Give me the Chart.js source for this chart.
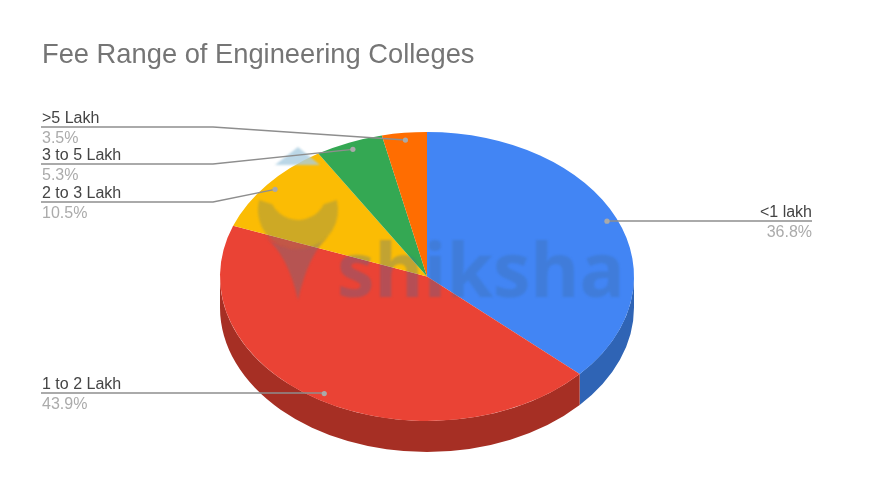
<!DOCTYPE html>
<html>
<head>
<meta charset="utf-8">
<title>Fee Range of Engineering Colleges</title>
<script src="https://cdn.jsdelivr.net/npm/chart.js@4/dist/chart.umd.min.js"></script>
<style>
  html, body { margin: 0; padding: 0; background: #fff; }
  #wrap { width: 895px; height: 503px; }
</style>
</head>
<body>
<div id="wrap"><canvas id="chart" width="895" height="503"></canvas></div>
<script>
const categories = ['<1 lakh', '1 to 2 Lakh', '2 to 3 Lakh', '3 to 5 Lakh', '>5 Lakh'];
const shares = [36.8, 43.9, 10.5, 5.3, 3.5];
const shareLabels = ['36.8%', '43.9%', '10.5%', '5.3%', '3.5%'];
const sliceColors = ['#4285f4', '#ea4335', '#fbbc04', '#34a853', '#ff6d01'];
const wallColors = ['#2f64b5', '#a62f24', '#b5880a', '#26793c', '#b84f01'];

// where the tilted pie sits on the page
const tilt = { cx: 427, cy: 276.5, rx: 207, ry: 144.5, depth: 31 };
// label placement, same order as categories
const leaders = [
    { side: 'right', y: 221 },
    { side: 'left', y: 393 },
    { side: 'left', y: 202, elbow: 213 },
    { side: 'left', y: 164, elbow: 213 },
    { side: 'left', y: 127, elbow: 213 }
];

const tiltedPie = {
    id: 'tiltedPie',
    beforeDatasetsDraw(chart) {
        const ctx = chart.ctx;
        const arcs = chart.getDatasetMeta(0).data;
        // side wall, only the front half of the rim is visible
        arcs.forEach((arc, i) => {
            const a1 = Math.max(arc.startAngle, 0);
            const a2 = Math.min(arc.endAngle, Math.PI);
            if (a2 <= a1) return;
            ctx.beginPath();
            ctx.ellipse(tilt.cx, tilt.cy, tilt.rx, tilt.ry, 0, a1, a2);
            ctx.ellipse(tilt.cx, tilt.cy + tilt.depth, tilt.rx, tilt.ry, 0, a2, a1, true);
            ctx.closePath();
            ctx.fillStyle = wallColors[i];
            ctx.fill();
        });
        // squash the library's circular arcs into the ellipse
        const first = arcs[0];
        ctx.save();
        ctx.translate(tilt.cx, tilt.cy);
        ctx.scale(tilt.rx / first.outerRadius, tilt.ry / first.outerRadius);
        ctx.translate(-first.x, -first.y);
    },
    afterDatasetsDraw(chart) {
        const ctx = chart.ctx;
        ctx.restore();
        drawWatermark(ctx);
        chart.getDatasetMeta(0).data.forEach((arc, i) => {
            const mid = (arc.startAngle + arc.endAngle) / 2;
            const px = tilt.cx + Math.cos(mid) * tilt.rx * 0.95;
            const py = tilt.cy + Math.sin(mid) * tilt.ry * 0.95;
            const lead = leaders[i];
            const isLeft = lead.side === 'left';
            const edge = isLeft ? 41 : 812;

            ctx.beginPath();
            ctx.moveTo(edge, lead.y);
            if (lead.elbow) ctx.lineTo(lead.elbow, lead.y);
            ctx.lineTo(px, lead.elbow ? py : lead.y);
            ctx.strokeStyle = '#8e8e8e';
            ctx.lineWidth = 1.4;
            ctx.stroke();

            ctx.beginPath();
            ctx.arc(px, py, 2.6, 0, Math.PI * 2);
            ctx.fillStyle = '#a9a9a9';
            ctx.fill();

            ctx.textAlign = isLeft ? 'left' : 'right';
            ctx.textBaseline = 'alphabetic';
            ctx.font = '16px "Liberation Sans", Arial, sans-serif';
            ctx.fillStyle = '#444444';
            ctx.fillText(categories[i], isLeft ? edge + 1 : edge, lead.y - 4);
            ctx.fillStyle = '#ababab';
            ctx.fillText(shareLabels[i], isLeft ? edge + 1 : edge, lead.y + 16);
        });
    }
};

// faint site logo and name stamped across the picture
function drawWatermark(ctx) {
    ctx.save();
    ctx.filter = 'blur(1.2px)';

    ctx.fillStyle = 'rgba(170, 205, 225, 0.8)';
    ctx.beginPath();
    ctx.moveTo(298, 147);
    ctx.lineTo(320, 165);
    ctx.lineTo(275, 165);
    ctx.closePath();
    ctx.fill();

    // crescent
    ctx.fillStyle = 'rgba(110, 130, 110, 0.32)';
    ctx.beginPath();
    ctx.arc(298, 210, 40, -0.08 * Math.PI, 1.08 * Math.PI);
    ctx.arc(298, 191, 29, 0.85 * Math.PI, 0.15 * Math.PI, true);
    ctx.closePath();
    ctx.fill();

    // dart under the crescent
    ctx.fillStyle = 'rgba(110, 110, 125, 0.42)';
    ctx.beginPath();
    ctx.moveTo(265, 237);
    ctx.quadraticCurveTo(288, 255, 298, 300);
    ctx.quadraticCurveTo(308, 255, 328, 237);
    ctx.quadraticCurveTo(298, 262, 265, 237);
    ctx.closePath();
    ctx.fill();

    ctx.font = 'bold 75px "Open Sans", "Liberation Sans", sans-serif';
    ctx.textAlign = 'left';
    ctx.textBaseline = 'alphabetic';
    ctx.fillStyle = 'rgba(60, 105, 160, 0.3)';
    ctx.fillText('shiksha', 337, 297);
    ctx.restore();
}

new Chart(document.getElementById('chart'), {
    type: 'pie',
    data: {
        labels: categories,
        datasets: [{
            data: shares,
            backgroundColor: sliceColors,
            borderWidth: 0,
            hoverOffset: 0,
            clip: false
        }]
    },
    options: {
        responsive: false,
        animation: false,
        layout: { padding: { left: 42, right: 42, top: 30, bottom: 40 } },
        plugins: {
            legend: { display: false },
            tooltip: { enabled: false },
            title: {
                display: true,
                text: 'Fee Range of Engineering Colleges',
                align: 'start',
                color: '#757575',
                font: { family: '"Liberation Sans", Arial, sans-serif', size: 27.3, weight: 'normal' },
                padding: { top: 9, bottom: 10 }
            }
        }
    },
    plugins: [tiltedPie]
});
</script>
</body>
</html>
